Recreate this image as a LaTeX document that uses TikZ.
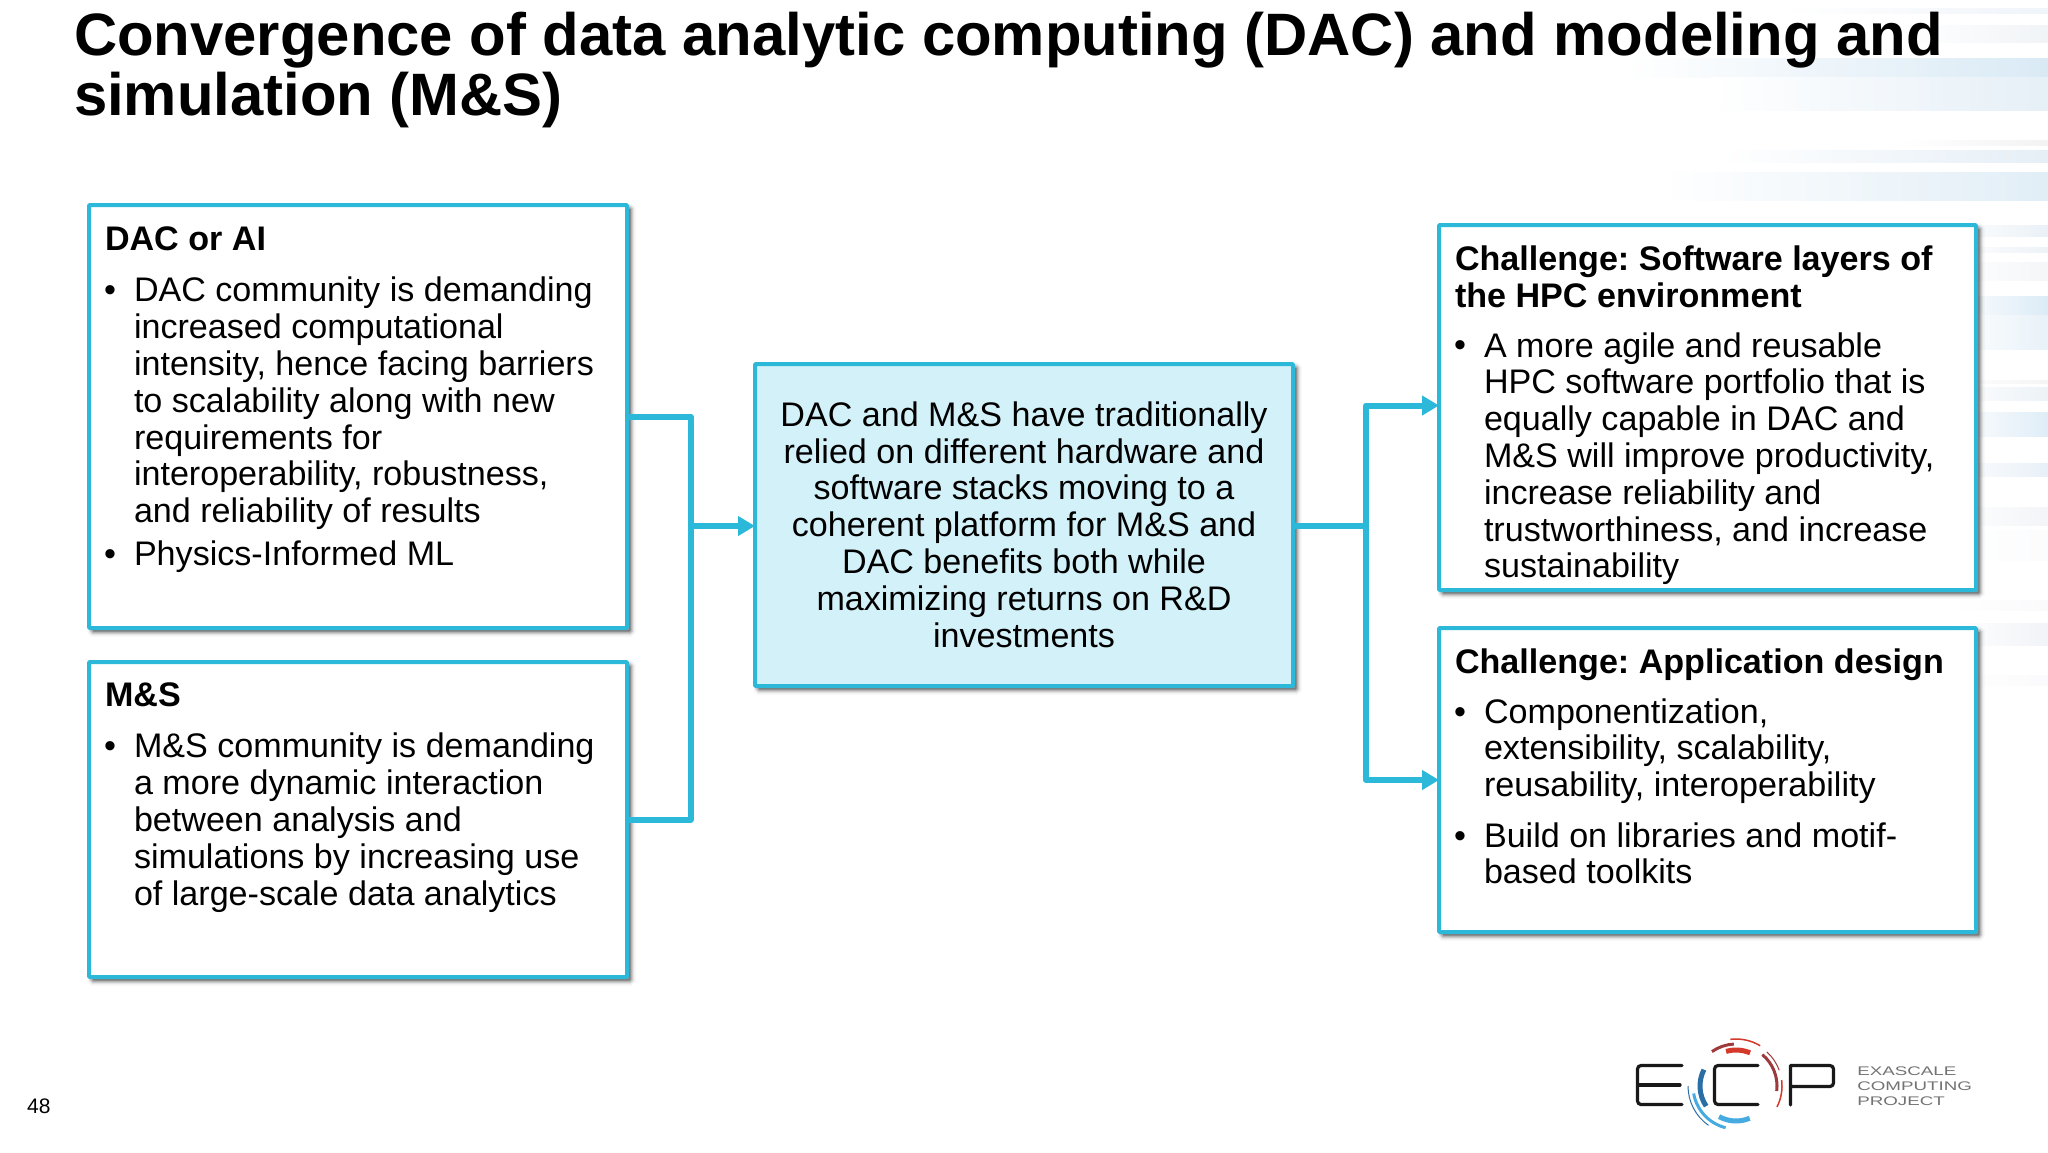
\documentclass[tikz,border=0pt]{standalone}
\usepackage{fontspec}
\setmainfont{Liberation Sans}
\usetikzlibrary{arrows.meta}
\definecolor{ecpcyan}{HTML}{2CB8D9}
\definecolor{ctrfill}{HTML}{D3F1F8}
\definecolor{ecpblue}{HTML}{2A6EA6}
\definecolor{ecpsky}{HTML}{45ABE0}
\definecolor{ecpred}{HTML}{D5392C}
\definecolor{ecpmaroon}{HTML}{9C3A3C}
\tikzset{
  softshadow/.style={
    preaction={draw=black,fill=black,line width=10pt,opacity=.04,transform canvas={xshift=3.5pt,yshift=-3.5pt}},
    preaction={draw=black,fill=black,line width=7pt,opacity=.06,transform canvas={xshift=3.5pt,yshift=-3.5pt}},
    preaction={draw=black,fill=black,line width=5pt,opacity=.09,transform canvas={xshift=3.5pt,yshift=-3.5pt}},
    preaction={draw=black,fill=black,line width=3pt,opacity=.14,transform canvas={xshift=3.5pt,yshift=-3.5pt}}},
  panel/.style={draw=ecpcyan,line width=4pt,fill=white,rounded corners=1pt,softshadow,inner sep=0pt,outer sep=0pt},
  body/.style={anchor=base west,align=left,inner sep=0pt,outer sep=0pt,font=\fontsize{34.1}{36.8}\selectfont\frenchspacing},
  head/.style={body,font=\fontsize{34.1}{36.8}\selectfont\bfseries\frenchspacing},
  mid/.style={anchor=base,align=center,inner sep=0pt,outer sep=0pt,font=\fontsize{34.1}{36.8}\selectfont\frenchspacing},
  conn/.style={draw=ecpcyan,line width=6pt,line join=round},
  arr/.style={conn,-{Triangle[length=17pt,width=19pt]}},
  ttl/.style={anchor=base west,align=left,inner sep=0pt,outer sep=0pt,font=\fontsize{59.85}{60.5}\selectfont\bfseries},
}
\newcommand{\stripe}[4]{\definecolor{stripecol}{HTML}{#4}\shade[left color=white,right color=stripecol!62!white,draw=none] (#1,#2) rectangle (2048,#3);}
\newcommand{\logoarc}[5]{\draw[line width=#4pt,#5] ([shift={(#1:#3pt)}]0,0) arc[start angle=#1,end angle=#2,radius=#3pt];}
\begin{document}
\begin{tikzpicture}[x=1pt,y=-1pt]
\useasboundingbox (0,0) rectangle (2048,1152);
\fill[white] (0,0) rectangle (2048,1152);
% background stripes
\stripe{1780}{8}{13}{E6EEF6}
\stripe{1900}{25}{42}{E8EDF2}
\stripe{1625}{58}{77}{C3DDEF}
\stripe{1710}{77}{110}{D6E6F2}
\stripe{1900}{140}{145}{EBEBEB}
\stripe{1720}{150}{162}{D6E5F1}
\stripe{1660}{172}{200}{CFE3F1}
\stripe{1950}{225}{236}{DCE8F1}
\stripe{1950}{247}{252}{E1EAF3}
\stripe{1950}{262}{280}{EEF0F4}
\stripe{1950}{296}{315}{C5DFF0}
\stripe{1950}{315}{349}{DAE9F4}
\stripe{1950}{380}{383}{EEEEEE}
\stripe{1950}{387}{400}{E0EAF2}
\stripe{1950}{412}{436}{CCE2F2}
\stripe{1950}{463}{476}{D9E6F2}
\stripe{1950}{507}{525}{ECEEF3}
\stripe{1950}{530}{560}{F9FAFC}
\stripe{1950}{600}{610}{F7F7FA}
\stripe{1950}{623}{645}{E8ECF3}
\stripe{1950}{675}{685}{F8F8FB}
% panels
\node[panel,minimum width=538pt,minimum height=423pt] (dac) at (358,416.5) {};
\node[panel,minimum width=538pt,minimum height=315pt] (ms) at (358,819.5) {};
\node[panel,fill=ctrfill,minimum width=538pt,minimum height=322pt] (ctr) at (1024,525) {};
\node[panel,minimum width=537pt,minimum height=365pt] (cha) at (1707.5,407.5) {};
\node[panel,minimum width=537pt,minimum height=304pt] (chb) at (1707.5,780) {};
% connectors
\coordinate (jl) at (690.5,526);
\coordinate (jr) at (1366,526);
\draw[conn] (dac.east) -| (jl) -- (jl |- ms.east) -- (ms.east);
\draw[arr] (jl) -- (ctr.west |- jl);
\draw[conn] (ctr.east |- jr) -- (jr);
\draw[arr] (jr) |- ([yshift=2pt]cha.west);
\draw[arr] (jr) |- (chb.west);
% title
\node[ttl] (title) at (74,115.5) {Convergence of data analytic computing (DAC) and modeling and\\simulation (M\&S)};
% DAC
\node[head] (dach) at (105,250.5) {DAC or AI};
\node[body] (dacb1) at (104,301.5) {•};
\node[body] (dact1) at (134,522.6) {DAC community is demanding\\increased computational\\intensity, hence facing barriers\\to scalability along with new\\requirements for\\interoperability, robustness,\\and reliability of results};
\node[body] (dacb2) at (104,565.5) {•};
\node[body] (dact2) at (134,565.5) {Physics-Informed ML};
% M&S
\node[head] (msh) at (105,706.5) {M\&S};
\node[body] (msb1) at (104,757.5) {•};
\node[body] (mst1) at (134,905) {M\&S community is demanding\\a more dynamic interaction\\between analysis and\\simulations by increasing use\\of large-scale data analytics};
% centre
\node[mid] (ctrt) at (1024,647) {DAC and M\&S have traditionally\\relied on different hardware and\\software stacks moving to a\\coherent platform for M\&S and\\DAC benefits both while\\maximizing returns on R\&D\\investments};
% challenge 1
\node[head] (chah) at (1455,307.4) {Challenge: Software layers of\\the HPC environment};
\node[body] (chab1) at (1454,356) {•};
\node[body] (chat1) at (1484,577.8) {A more agile and reusable\\HPC software portfolio that is\\equally capable in DAC and\\M\&S will improve productivity,\\increase reliability and\\trustworthiness, and increase\\sustainability};
% challenge 2
\node[head] (chbh) at (1455,673.5) {Challenge: Application design};
\node[body] (chbb1) at (1454,723) {•};
\node[body] (chbt1) at (1484,796.6) {Componentization,\\extensibility, scalability,\\reusability, interoperability};
\node[body] (chbb2) at (1454,847) {•};
\node[body] (chbt2) at (1484,883.8) {Build on libraries and motif-\\based toolkits};
% page number
\node[anchor=base west,inner sep=0pt,font=\fontsize{21}{21}\selectfont] (page) at (27,1113) {48};
% logo
\begin{scope}[line width=3.2pt,line cap=round,line join=round,draw=black!90]
\draw (1682,1065.5) -- (1641,1065.5) arc[start angle=90,end angle=180,radius=3.5pt] -- (1637.5,1101) arc[start angle=180,end angle=270,radius=3.5pt] -- (1682,1104.5);
\draw (1639,1085) -- (1680,1085);
\draw (1758,1065.5) -- (1718,1065.5) arc[start angle=90,end angle=180,radius=3.5pt] -- (1714.5,1101) arc[start angle=180,end angle=270,radius=3.5pt] -- (1758,1104.5);
\draw (1790.5,1105) -- (1790.5,1065.5) -- (1830,1065.5) arc[start angle=90,end angle=0,radius=3.5pt] -- (1833.5,1083) arc[start angle=0,end angle=-90,radius=3.5pt] -- (1792,1086.5);
\end{scope}
\begin{scope}[shift={(1736,1086)},line cap=butt]
\logoarc{153}{214}{36}{5}{draw=ecpblue}
\logoarc{241}{293}{35}{5}{draw=ecpsky}
\logoarc{106}{67}{36}{5}{draw=ecpred}
\logoarc{50}{-7}{41}{3}{draw=ecpmaroon}
\logoarc{48}{20}{46}{1}{draw=ecpmaroon}
\logoarc{7.5}{-27}{46}{1.5}{draw=ecpred}
\logoarc{97}{59}{47}{1.5}{draw=ecpred}
\logoarc{125}{93}{42}{3}{draw=ecpmaroon}
\logoarc{190}{256}{43}{3}{draw=ecpsky}
\logoarc{180}{235}{48}{1}{draw=ecpblue}
\end{scope}
\node[anchor=base west,align=left,inner sep=0pt,xscale=1.5,text=black!55,font=\fontsize{12.5}{15}\selectfont] (logotext) at (1857,1105) {EXASCALE\\COMPUTING\\PROJECT};
\end{tikzpicture}
\end{document}
